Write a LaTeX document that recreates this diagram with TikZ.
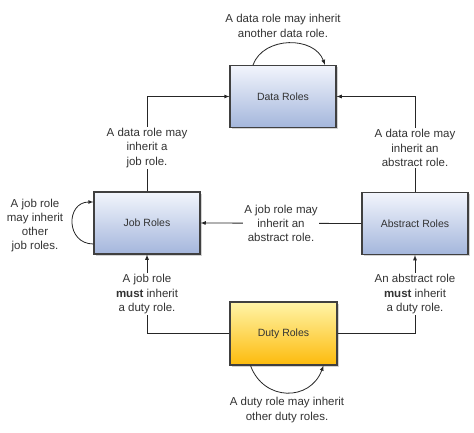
\documentclass[tikz,border=0pt]{standalone}
\usepackage{fontspec}
\setmainfont{Liberation Sans}
\usetikzlibrary{shadows}

\definecolor{roletop}{HTML}{F2F5FC}
\definecolor{rolebot}{HTML}{A4B6DC}
\definecolor{dutytop}{HTML}{FFF4A8}
\definecolor{dutybot}{HTML}{FDBB0C}
\definecolor{ink}{HTML}{333333}

\begin{document}
\begin{tikzpicture}[x=1pt,y=1pt]
	\tikzstyle{every node}=[font=\fontsize{11.5}{14.3}\selectfont, text=ink]
	\tikzstyle{role}=[draw=black!75, line width=1.1pt, minimum width=106pt, minimum height=62pt, top color=roletop, bottom color=rolebot, drop shadow={shadow xshift=1.5pt, shadow yshift=-1.5pt, opacity=0.35}, font=\fontsize{10.5}{13}\selectfont]
	\tikzstyle{dutyrole}=[role, minimum width=107pt, minimum height=63pt, top color=dutytop, bottom color=dutybot]
	\tikzstyle{note}=[align=center, fill=white, inner sep=1.5pt]
	\tikzstyle{link}=[line width=0.8pt, draw=black!85, -latex]
	
	\useasboundingbox (0,0) rectangle (474,432);
	
	% the four roles
	\node[role] (data) at (283,335.5) {Data Roles};
	\node[role] (job) at (147,209) {Job Roles};
	\node[role] (abstract) at (415,208.5) {Abstract Roles};
	\node[dutyrole] (duty) at (283.5,98.5) {Duty Roles};
	
	% inheritance between roles
	\draw [link] (job.north) |- node[note, pos=0.23] {A data role may\\inherit a\\job role.} (data.west);
	\draw [link] (abstract.north) |- node[note, pos=0.23] {A data role may\\inherit an\\abstract role.} (data.east);
	\draw [link] (abstract.west) -- node[note] {A job role may\\inherit an\\abstract role.} (job.east);
	\draw [link] (duty.west) -| node[note, pos=0.75] {A job role\\\textbf{must} inherit\\a duty role.} (job.south);
	\draw [link] (duty.east) -| node[note, pos=0.75] {An abstract role\\\textbf{must} inherit\\a duty role.} (abstract.south);
	
	% self inheritance
	\draw [link] ([xshift=-30pt]data.north) to[out=70,in=110,looseness=1.1] ([xshift=42pt]data.north);
	\node[note] (datanote) at (283,406) {A data role may inherit\\another data role.};
	
	\draw [link] ([yshift=-21pt]job.west) to[out=180,in=180,looseness=1.7] ([yshift=21pt]job.west);
	\node[note] (jobnote) at (35,206.5) {A job role\\may inherit\\other\\job roles.};
	
	\draw [link] ([xshift=-33pt]duty.south) to[out=-70,in=-110,looseness=1.35] ([xshift=40pt]duty.south);
	\node[note] (dutynote) at (287,22) {A duty role may inherit\\other duty roles.};
	
\end{tikzpicture}
\end{document}
